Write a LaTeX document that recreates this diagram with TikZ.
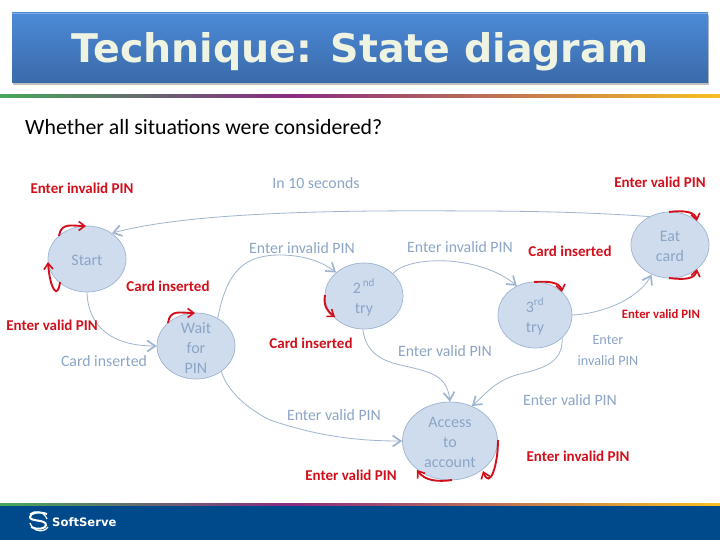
\documentclass[tikz,border=0pt]{standalone}
\usepackage{fontspec}
\setmainfont{Carlito}
\newfontfamily\titlefont{DejaVu Sans}
\usetikzlibrary{arrows.meta,shapes.geometric}
\definecolor{statefill}{HTML}{CEDCEE}
\definecolor{stateline}{HTML}{9FB4CF}
\definecolor{softtext}{HTML}{8CA5C6}
\definecolor{redmark}{HTML}{D2101C}
\definecolor{ribgreen}{HTML}{45A85A}
\definecolor{ribpurple}{HTML}{8A2A84}
\definecolor{ribyellow}{HTML}{F8C020}
\definecolor{bartop}{HTML}{4C8AD8}
\definecolor{barbot}{HTML}{3A6AA8}
\definecolor{titletext}{HTML}{EEF3E2}
\definecolor{footblue}{HTML}{004A8C}
\tikzset{
  state/.style={ellipse,draw=stateline,fill=statefill,line width=.7pt,inner sep=0pt},
  statetext/.style={text=softtext,font=\fontsize{16}{20}\selectfont,align=center,inner sep=0pt,yshift=-1.5pt},
  link/.style={draw=stateline,line width=.8pt,-{Straight Barb[length=8pt,width=11pt,line width=1.7pt]}},
  loopmark/.style={draw=redmark,line width=1.9pt,-{Straight Barb[length=6pt,width=9pt,line width=1.6pt]}},
  softlabel/.style={text=softtext,font=\fontsize{15.8}{20}\selectfont,align=center,inner sep=0pt},
  redlabel/.style={text=redmark,font=\fontsize{15}{16}\selectfont\bfseries,inner sep=0pt}
}
\begin{document}
\begin{tikzpicture}[x=1pt,y=-1pt]
\useasboundingbox (0,0) rectangle (720,540);
\fill[white] (0,0) rectangle (720,540);
% title bar
\fill[black,opacity=.25] (13,15) rectangle (709,85);
\shade[top color=bartop,bottom color=barbot] (12,13) rectangle (708,83);
\draw[bartop!70!white,line width=.8pt] (12,13.4) -- (708,13.4);
\node[inner sep=0pt,text=titletext,font=\titlefont\bfseries\fontsize{39.5}{44}\selectfont] (title) at (360,52) {Technique: State diagram};
% ribbon
\shade[left color=ribgreen,right color=ribpurple] (0,94.5) rectangle (290,98);
\shade[left color=ribpurple,right color=ribyellow] (290,94.5) rectangle (720,98);
\node[anchor=west,inner sep=0pt,font=\fontsize{21.8}{24}\selectfont] (question) at (25,127) {Whether all situations were considered?};
% footer
\fill[footblue] (0,503) rectangle (720,540);
\shade[left color=ribgreen,right color=ribpurple] (0,503) rectangle (290,505);
\shade[left color=ribpurple,right color=ribyellow] (290,503) rectangle (720,505);
\draw[white,line width=2pt] (47,514) .. controls (38,511) and (30,513) .. (30,517) .. controls (30,522) and (46,519) .. (46,525) .. controls (46,529) and (37,530) .. (31,527);
\draw[white,line width=1.2pt] (30,523) .. controls (33,532) and (44,533) .. (48,527);
\draw[white,line width=1.2pt] (47,519) .. controls (44,511) and (34,510) .. (30,514);
\node[anchor=west,inner sep=0pt,text=white,font=\titlefont\bfseries\fontsize{11.6}{12}\selectfont] (logo) at (52,522) {SoftServe};
% states
\node[state,minimum width=78pt,minimum height=66pt,label={[statetext]center:Start}] (start) at (87,259) {};
\node[state,minimum width=78pt,minimum height=66pt,label={[statetext]center:Wait\\for\\PIN}] (wait) at (196,346) {};
\node[state,minimum width=78pt,minimum height=66pt,label={[statetext]center:2\textsuperscript{\,nd}\\try}] (second) at (364,296) {};
\node[state,minimum width=74pt,minimum height=66pt,label={[statetext]center:3\textsuperscript{rd}\\try}] (third) at (535,315) {};
\node[state,minimum width=78pt,minimum height=66pt,label={[statetext]center:Eat\\card}] (eat) at (670,245) {};
\node[state,minimum width=95pt,minimum height=78pt,label={[statetext]center:Access\\to\\account}] (access) at (450,441) {};
% connectors
\draw[link] (eat.126) .. controls (590,212) and (520,211) .. (470,211) .. controls (340,210) and (190,212) .. (start.46);
\draw[link] (start.270) .. controls (88,325) and (110,346) .. (wait.180);
\draw[link] (wait.52) .. controls (227,270) and (245,255) .. (280,255) .. controls (300,255) and (320,260) .. (second.140);
\draw[link] (second.38) .. controls (410,255) and (480,255) .. (third.122);
\draw[link] (third.0) .. controls (600,314) and (638,300) .. (eat.238);
\draw[link] (second.268) .. controls (366,355) and (385,362) .. (405,366) .. controls (430,372) and (447,375) .. (access.90);
\draw[link] (third.-40) .. controls (563,362) and (545,368) .. (520,374) .. controls (495,380) and (485,395) .. (access.58);
\draw[link] (wait.-45) .. controls (225,385) and (240,405) .. (270,420) .. controls (320,437) and (360,441) .. (access.180);
% self-loop marks
\draw[loopmark] (59,236) .. controls (61,222) and (72,226) .. (86,226);
\draw[loopmark] (60,282) .. controls (58,300) and (50,290) .. (48,262);
\draw[loopmark] (168,323) .. controls (170,309) and (180,313) .. (195,313);
\draw[loopmark] (325,295) .. controls (323,306) and (328,312) .. (335,317);
\draw[loopmark] (534,282) .. controls (548,281) and (560,282) .. (562,292);
\draw[loopmark] (669,212) .. controls (685,210) and (695,212) .. (697,221);
\draw[loopmark] (669,278) .. controls (685,280) and (695,279) .. (697,269);
\draw[loopmark] (452,480) .. controls (438,482) and (425,481) .. (417,470);
\draw[loopmark] (498,440) .. controls (498,465) and (490,490) .. (483,471);
% labels
\node[redlabel] (l1) at (82,188) {Enter invalid PIN};
\node[softlabel] (l2) at (316,183) {In 10 seconds};
\node[redlabel] (l3) at (660,182) {Enter valid PIN};
\node[softlabel] (l4) at (302,248) {Enter invalid PIN};
\node[softlabel] (l5) at (460,247) {Enter invalid PIN};
\node[redlabel] (l6) at (570,251) {Card inserted};
\node[redlabel] (l7) at (168,286) {Card inserted};
\node[redlabel,font=\fontsize{12.8}{14}\selectfont\bfseries] (l8) at (661,314) {Enter valid PIN};
\node[redlabel] (l9) at (52,325) {Enter valid PIN};
\node[redlabel] (l10) at (311,343) {Card inserted};
\node[softlabel] (l11) at (445,351) {Enter valid PIN};
\node[softlabel,font=\fontsize{14.2}{21}\selectfont] (l12) at (608,350) {Enter\\invalid PIN};
\node[softlabel] (l13) at (104,361) {Card inserted};
\node[softlabel] (l14) at (570,400) {Enter valid PIN};
\node[softlabel] (l15) at (334,415) {Enter valid PIN};
\node[redlabel] (l16) at (578,456) {Enter invalid PIN};
\node[redlabel] (l17) at (351,475) {Enter valid PIN};
\end{tikzpicture}
\end{document}
